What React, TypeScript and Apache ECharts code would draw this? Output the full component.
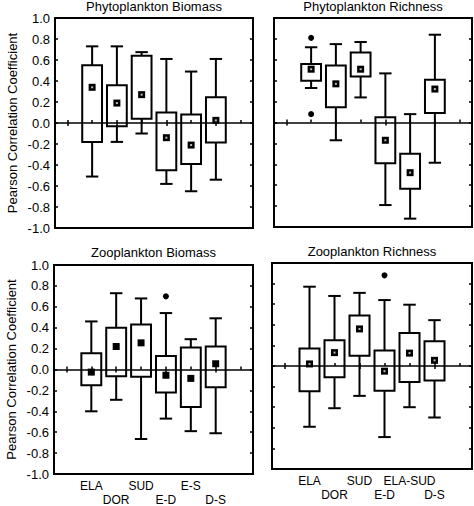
import React, { useEffect, useRef } from "react";
import * as echarts from "echarts";

const catsPhyto = ["", "ELA", "DOR", "SUD", "E-D", "E-S", "D-S", ""];
const catsZooBiomass = ["", "ELA", "DOR", "SUD", "E-D", "E-S", "D-S", ""];
const catsZooRichness = ["", "ELA", "DOR", "SUD", "E-D", "ELA-SUD", "D-S", ""];

const yMin = -1.0;
const yMax = 1.0;
const yStep = 0.2;

// Phytoplankton Biomass
const pbLow = [-0.51, -0.18, -0.1, -0.58, -0.65, -0.54];
const pbQ1 = [-0.18, -0.03, 0.04, -0.45, -0.39, -0.185];
const pbQ3 = [0.55, 0.36, 0.64, 0.1, 0.08, 0.245];
const pbHigh = [0.73, 0.73, 0.675, 0.61, 0.49, 0.61];
const pbMean = [0.34, 0.19, 0.27, -0.14, -0.21, 0.025];
const pbOutliers: [string, number][] = [];

// Phytoplankton Richness
const prLow = [0.33, -0.17, 0.24, -0.79, -0.92, -0.385];
const prQ1 = [0.4, 0.145, 0.44, -0.39, -0.635, 0.09];
const prQ3 = [0.56, 0.545, 0.67, 0.05, -0.3, 0.41];
const prHigh = [0.72, 0.75, 0.77, 0.47, 0.08, 0.84];
const prMean = [0.51, 0.37, 0.51, -0.17, -0.48, 0.32];
const prOutliers: [string, number][] = [["ELA", 0.81], ["ELA", 0.08]];

// Zooplankton Biomass
const zbLow = [-0.4, -0.29, -0.665, -0.47, -0.59, -0.61];
const zbQ1 = [-0.15, -0.065, -0.07, -0.22, -0.36, -0.17];
const zbQ3 = [0.155, 0.4, 0.43, 0.13, 0.21, 0.22];
const zbHigh = [0.46, 0.73, 0.68, 0.54, 0.29, 0.49];
const zbMean = [-0.025, 0.22, 0.255, -0.055, -0.085, 0.055];
const zbOutliers: [string, number][] = [["E-D", 0.7]];

// Zooplankton Richness
const zrLow = [-0.59, -0.41, -0.29, -0.69, -0.4, -0.5];
const zrQ1 = [-0.245, -0.11, 0.1, -0.24, -0.155, -0.14];
const zrQ3 = [0.17, 0.25, 0.49, 0.15, 0.32, 0.24];
const zrHigh = [0.77, 0.68, 0.71, 0.64, 0.595, 0.445];
const zrMean = [0.02, 0.13, 0.36, -0.05, 0.125, 0.055];
const zrOutliers: [string, number][] = [["E-D", 0.88]];

const FONT = "'Liberation Sans', Arial, sans-serif";

type Panel = {
  title: string;
  cats: string[];
  low: number[];
  q1: number[];
  q3: number[];
  high: number[];
  mean: number[];
  outliers: [string, number][];
  grid: { left: number; top: number; width: number; height: number };
  showY: boolean;
  showX: boolean;
  hollow: boolean;
  titleTop: number;
};

const panels: Panel[] = [
  {
    title: "Phytoplankton Biomass",
    cats: catsPhyto,
    low: pbLow, q1: pbQ1, q3: pbQ3, high: pbHigh, mean: pbMean, outliers: pbOutliers,
    grid: { left: 55, top: 18, width: 198, height: 210 },
    showY: true, showX: false, hollow: true, titleTop: 0,
  },
  {
    title: "Phytoplankton Richness",
    cats: catsPhyto,
    low: prLow, q1: prQ1, q3: prQ3, high: prHigh, mean: prMean, outliers: prOutliers,
    grid: { left: 274, top: 18, width: 198, height: 209 },
    showY: false, showX: false, hollow: true, titleTop: 0,
  },
  {
    title: "Zooplankton Biomass",
    cats: catsZooBiomass,
    low: zbLow, q1: zbQ1, q3: zbQ3, high: zbHigh, mean: zbMean, outliers: zbOutliers,
    grid: { left: 54, top: 265, width: 199, height: 209 },
    showY: true, showX: true, hollow: false, titleTop: 246,
  },
  {
    title: "Zooplankton Richness",
    cats: catsZooRichness,
    low: zrLow, q1: zrQ1, q3: zrQ3, high: zrHigh, mean: zrMean, outliers: zrOutliers,
    grid: { left: 272, top: 263, width: 200, height: 206 },
    showY: false, showX: true, hollow: true, titleTop: 245,
  },
];

function makeRenderItem(hollow: boolean) {
  return (params: any, api: any) => {
    const x = api.value(0);
    const low = api.value(1);
    const q1 = api.value(2);
    const q3 = api.value(3);
    const high = api.value(4);
    const mean = api.value(5);
    const band = api.size([1, 0])[0];
    const bw = band * 0.8;
    const cw = band * 0.5;
    const pLow = api.coord([x, low]);
    const pQ1 = api.coord([x, q1]);
    const pQ3 = api.coord([x, q3]);
    const pHigh = api.coord([x, high]);
    const pMean = api.coord([x, mean]);
    const cx = pLow[0];
    const lineStyle = { stroke: "#000", lineWidth: 2, fill: null };
    const children: any[] = [
      { type: "line", shape: { x1: cx, y1: pLow[1], x2: cx, y2: pQ1[1] }, style: lineStyle },
      { type: "line", shape: { x1: cx, y1: pQ3[1], x2: cx, y2: pHigh[1] }, style: lineStyle },
      { type: "line", shape: { x1: cx - cw / 2, y1: pLow[1], x2: cx + cw / 2, y2: pLow[1] }, style: lineStyle },
      { type: "line", shape: { x1: cx - cw / 2, y1: pHigh[1], x2: cx + cw / 2, y2: pHigh[1] }, style: lineStyle },
      {
        type: "rect",
        shape: { x: cx - bw / 2, y: pQ3[1], width: bw, height: pQ1[1] - pQ3[1] },
        style: { stroke: "#000", lineWidth: 2, fill: "rgba(0,0,0,0)" },
      },
      {
        type: "rect",
        shape: { x: cx - 3.5, y: pMean[1] - 3.5, width: 7, height: 7 },
        style: { fill: "#000" },
      },
    ];
    if (hollow) {
      children.push({
        type: "rect",
        shape: { x: cx - 1, y: pMean[1] - 1, width: 2, height: 2 },
        style: { fill: "#bbb" },
      });
    }
    return { type: "group", children };
  };
}

export default function App() {
  const ref = useRef<HTMLDivElement>(null);
  useEffect(() => {
    if (!ref.current) return;
    const chart = echarts.init(ref.current, undefined, { renderer: "svg" });
    const grids: any[] = [];
    const xAxes: any[] = [];
    const yAxes: any[] = [];
    const series: any[] = [];
    const titles: any[] = [];

    panels.forEach((p, i) => {
      grids.push({
        ...p.grid,
        show: true,
        borderColor: "#000",
        borderWidth: 2,
        backgroundColor: "transparent",
        containLabel: false,
        outerBoundsMode: "none",
      });
      titles.push({
        text: p.title,
        left: p.grid.left + p.grid.width / 2,
        top: p.titleTop,
        textAlign: "center",
        padding: 0,
        textStyle: { fontFamily: FONT, fontSize: 13, fontWeight: "normal", color: "#000" },
      });
      const baseX = {
        type: "category",
        gridIndex: i,
        data: p.cats,
        boundaryGap: true,
        axisLine: { show: false },
        axisTick: { show: true, inside: true, length: 3, alignWithLabel: true, lineStyle: { color: "#000", width: 1.5 } },
        splitLine: { show: false },
      };
      xAxes.push({
        ...baseX,
        position: "bottom",
        axisLabel: {
          show: p.showX,
          interval: 0,
          margin: 5,
          fontFamily: FONT,
          fontSize: 12,
          lineHeight: 14,
          color: "#000",
          formatter: (v: string, idx: number) => (idx % 2 === 0 ? "\n" + v : v),
        },
      });
      xAxes.push({ ...baseX, position: "top", axisLabel: { show: false } });
      const baseY = {
        type: "value",
        gridIndex: i,
        min: yMin,
        max: yMax,
        interval: yStep,
        axisLine: { show: false },
        axisTick: { show: true, inside: true, length: 3, lineStyle: { color: "#000", width: 1.5 } },
        splitLine: { show: false },
      };
      yAxes.push({
        ...baseY,
        position: "left",
        name: p.showY ? "Pearson Correlation Coefficient" : "",
        nameLocation: "middle",
        nameGap: 36,
        nameTextStyle: { fontFamily: FONT, fontSize: 13, color: "#000" },
        axisLabel: {
          show: p.showY,
          margin: 5,
          fontFamily: FONT,
          fontSize: 13,
          color: "#000",
          formatter: (v: number) => v.toFixed(1),
        },
      });
      yAxes.push({ ...baseY, position: "right", axisLabel: { show: false } });

      const boxData = p.low.map((l, k) => [k + 1, l, p.q1[k], p.q3[k], p.high[k], p.mean[k]]);
      series.push({
        type: "custom",
        xAxisIndex: i * 2,
        yAxisIndex: i * 2,
        renderItem: makeRenderItem(p.hollow),
        encode: { x: 0, y: [1, 2, 3, 4, 5] },
        data: boxData,
        clip: false,
      });
      series.push({
        type: "scatter",
        xAxisIndex: i * 2,
        yAxisIndex: i * 2,
        symbol: "circle",
        symbolSize: 6,
        itemStyle: { color: "#000", opacity: 1 },
        data: p.outliers,
        markLine: {
          silent: true,
          symbol: "none",
          label: { show: false },
          lineStyle: { color: "#000", width: 1.5, type: "solid", opacity: 1 },
          data: [{ yAxis: 0 }],
        },
      });
    });

    chart.setOption({
      animation: false,
      backgroundColor: "#fff",
      title: titles,
      grid: grids,
      xAxis: xAxes,
      yAxis: yAxes,
      series,
    });
    return () => chart.dispose();
  }, []);
  return (
    <div
      ref={ref}
      style={{ position: "absolute", left: 0, top: 0, width: 474, height: 506 }}
    />
  );
}
